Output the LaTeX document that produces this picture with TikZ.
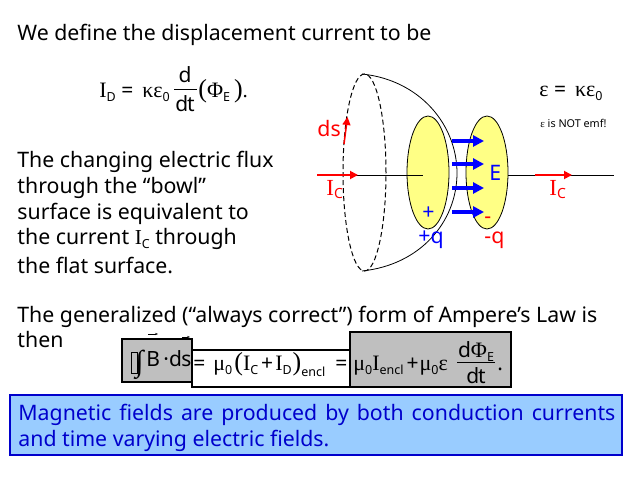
\documentclass[tikz,border=0pt]{standalone}
\usepackage{fontspec}
\setmainfont{Noto Sans}
\newfontfamily\symf{Liberation Serif}
\usetikzlibrary{arrows.meta,positioning,shapes.geometric}
\definecolor{plate1}{HTML}{FFFF85}
\definecolor{box1}{HTML}{BFBFBF}
\definecolor{note1}{HTML}{99CCFF}
\definecolor{note2}{HTML}{0000CC}
\definecolor{field1}{HTML}{0000FF}
\def\sz#1{\fontsize{#1}{#1}\selectfont}
\def\sbs#1{\raisebox{-0.35ex}{\sz{12.5}#1}}
\def\sbl#1{\raisebox{-3pt}{\sz{14}#1}}
\def\bigp#1{{\symf\sz{26}#1}}

\begin{document}
\begin{tikzpicture}[x=1pt,y=-1pt,thick]
\tikzstyle{body}=[anchor=base west,inner sep=0pt,font=\sz{21.3}]
\tikzstyle{eqn}=[anchor=base west,inner sep=0pt,font=\sz{21}]
\tikzstyle{plate}=[ellipse,draw=black,fill=plate1,minimum width=42pt,minimum height=113pt,inner sep=0pt]
\tikzstyle{fieldline}=[-{Triangle[length=11pt,width=11pt]},draw=field1,line width=3.4pt]
\tikzstyle{current}=[-{Triangle[length=8pt,width=8pt]},draw=red,line width=1.8pt]
\tikzstyle{graybox}=[draw=black,line width=2pt,fill=box1]
\tikzstyle{redlabel}=[anchor=base west,inner sep=0pt,text=red,font=\sz{21.3}]
\tikzstyle{bluelabel}=[anchor=base west,inner sep=0pt,text=field1,font=\sz{21.3}]
\useasboundingbox (0,0) rectangle (638,478);

% Draw the text lines
\node[body] (title) at (17,41) {We define the displacement current to be};
\foreach \name / \y / \txt in {a/168/{The changing electric flux},b/194/{through the ``bowl''},c/220/{surface is equivalent to},d/245/{the current {\symf I}\sbs{C} through},e/274/{the flat surface.},f/323/{The generalized (``always correct'') form of Ampere's Law is},g/348/{then}}
\node[body] (line-\name) at (17,\y) {\txt};

% Displacement current formula
\node[eqn] (id) at (99,98) {{\symf\sz{22}I}\sbs{D} = \,{\symf\sz{22}κε}\sbs{0}};
\node[eqn,anchor=base] (dnum) at (185,83) {d};
\node[eqn,anchor=base] (ddenom) at (185,112) {d\kern-1pt t};
\draw[line width=0.8pt] (174,89) -- (197,89);
\node[eqn] (flux) at (198,98) {\bigp{(}{\symf\sz{22}Φ}\sbs{E}\kern4pt\bigp{)}{\symf .}};

% Dielectric constant
\node[eqn] (eps) at (539,97) {{\symf\sz{22}ε} = \,{\symf\sz{22}κε}\sbs{0}};
\node[anchor=base west,inner sep=0pt,font=\sz{10.8}] (emf) at (540,128) {{\symf ε} is NOT emf!};

% Draw the bowl
\draw[line width=0.8pt] (362,74) .. controls (420,80) and (457,125) .. (457,173) .. controls (457,222) and (420,265) .. (362,271);
\draw[dash pattern=on 5pt off 3pt,line width=1pt] (364.5,172.5) ellipse (21.5pt and 98.5pt);

% Draw the plates
\node[plate] (P-1) at (428,172.5) {};
\node[plate] (P-2) at (487,172.5) {};

% Draw the wires
\coordinate (wa) at (317,175);
\coordinate (wb) at (423,175);
\coordinate (wc) at (614,175);
\coordinate (ca) at (358,175);
\coordinate (cb) at (535,175);
\coordinate (cc) at (572,175);
\draw[line width=0.8pt] (wa) -- (wb);
\draw[line width=0.8pt] (P-2.east |- wc) -- (wc);
\draw[current] (wa) -- (ca);
\draw[current] (cb) -- (cc);

% Field arrows between the plates
\foreach \name / \y in {1/141,2/164,3/188,4/212} {
\coordinate (fa-\name) at (452,\y);
\coordinate (fb-\name) at (484,\y);
\draw[fieldline] (fa-\name) -- (fb-\name);
}

% Path element
\coordinate (dsa) at (344,144);
\coordinate (dsb) at (347.5,117);
\draw[current,line width=1.5pt] (dsa) -- (dsb);

% Annotate the drawing
\node[redlabel] (ds) at (317,137) {ds};
\node[redlabel] (ic1) at (326,196) {{\symf\sz{23}I}\sbl{C}};
\node[redlabel] (ic2) at (549,196) {{\symf\sz{23}I}\sbl{C}};
\node[bluelabel] (elabel) at (489,181) {E};
\node[bluelabel] (plus) at (422,220) {+};
\node[redlabel] (minus) at (484,224) {-};
\node[bluelabel] (pq) at (418,244) {+q};
\node[redlabel] (mq) at (484,244) {-q};

% Ampere's law boxes
\draw[line width=2pt] (192,350) rectangle (350,387);
\node[graybox,minimum width=70pt,minimum height=43pt,inner sep=0pt] (left) at (157,360.5) {};
\node[graybox,minimum width=161pt,minimum height=55pt,inner sep=0pt] (right) at (430.5,359.5) {};

% Ampere's law text
\node[draw=black,line width=0.7pt,minimum width=6pt,minimum height=21pt,inner sep=0pt] (loop) at (134.5,362.5) {};
\node[anchor=base west,inner sep=0pt,font=\sz{30}\symf] (int) at (135,372) {∫};
\node[eqn] (bds) at (146,367) {B};
\node[eqn] (dsdot) at (163,367) {·d\kern-0.5pt s};
\node[eqn] (mid) at (193,371) {=\kern8pt{\symf\sz{22}μ}\sbs{0}\kern2pt\bigp{(}{\symf\sz{22}I}\sbs{C}\kern3pt+\kern2pt{\symf\sz{22}I}\sbs{D}\kern1pt\bigp{)}\raisebox{-0.5ex}{\sz{12.5}encl}};
\node[eqn] (eq2) at (335,371) {=};
\node[eqn] (rhs) at (353,371) {{\symf\sz{22}μ}\sbs{0}{\symf\sz{22}I}\sbs{encl}\kern3pt+\kern1pt{\symf\sz{22}μ}\sbs{0}{\symf\sz{22}ε}};
\node[eqn,anchor=base] (rnum) at (476,358) {d{\symf\sz{22}Φ}\sbs{E}};
\node[eqn,anchor=base] (rdenom) at (476,384) {d\kern-1pt t};
\draw[line width=0.8pt] (457,362) -- (495,362);
\node[eqn] (dot) at (497,371) {.};
\draw[-{Stealth[length=3pt]},line width=0.5pt] (148,334) -- (158,334);
\draw[-{Stealth[length=3pt]},line width=0.5pt] (182,337) -- (190,337);

% Conclusion box
\node[draw=note2,fill=note1,line width=2.5pt,minimum width=612pt,minimum height=60pt,inner sep=0pt] (note) at (316,425) {};
\node[anchor=base west,inner sep=0pt,text=note2,font=\sz{21.3}] (n1) at (18,421) {\makebox[597pt][s]{Magnetic fields are produced by both conduction currents}};
\node[anchor=base west,inner sep=0pt,text=note2,font=\sz{21.3}] (n2) at (18,447) {and time varying electric fields.};
\end{tikzpicture}
\end{document}
